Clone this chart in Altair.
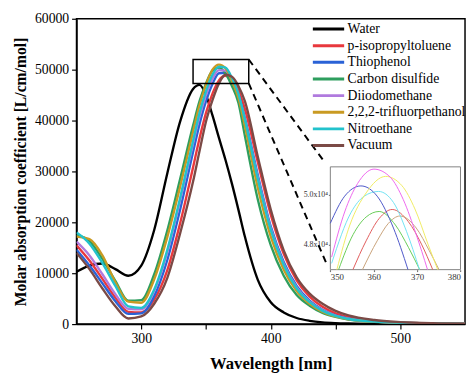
import altair as alt
import pandas as pd

# ---------------- data ----------------
WAVELENGTH = [250, 260, 270, 280, 290, 300, 310, 320, 330, 340, 345, 350, 355, 360, 365,
              370, 375, 380, 390, 400, 410, 420, 430, 440, 450, 460, 480, 500, 525, 550]

SERIES = ["Water", "p-isopropyltoluene", "Thiophenol", "Carbon disulfide",
          "Diiodomethane", "2,2,2-trifluorpethanol", "Nitroethane", "Vacuum"]

WATER = [10300, 11500, 11900, 10800, 9500, 11500, 18500, 29500, 39800, 46200, 47000, 45000, 41000, 36600, 32300,
         27600, 22500, 17200, 8700, 4300, 2300, 1200, 650, 350, 200, 120, 50, 20, 10, 5]
P_ISOPROPYLTOLUENE = [15500, 12500, 8900, 5200, 2400, 2300, 4800, 10500, 19800, 30800, 36500, 41500, 45300, 47900, 48800,
                      48200, 46000, 42300, 31800, 21500, 13800, 8600, 5400, 3400, 2100, 1350, 650, 330, 150, 70]
THIOPHENOL = [14600, 11500, 8000, 4500, 2000, 2100, 5500, 12500, 22500, 33800, 39300, 43800, 47200, 49300, 49400,
              47900, 45200, 40500, 29300, 19200, 12200, 7500, 4600, 2800, 1700, 1100, 540, 290, 140, 60]
CARBON_DISULFIDE = [17600, 16300, 12800, 8500, 4600, 4700, 9800, 18300, 28500, 39000, 43800, 47300, 49800, 50400, 49300,
                    46800, 43500, 37000, 24500, 15500, 9500, 5700, 3600, 2200, 1400, 900, 450, 250, 120, 60]
DIIODOMETHANE = [16200, 13500, 9800, 5900, 3000, 2900, 6500, 14000, 24300, 35500, 40800, 45000, 48200, 49900, 49800,
                 48000, 45000, 40000, 28800, 18800, 11800, 7200, 4400, 2700, 1650, 1050, 520, 280, 130, 60]
TRIFLUOROETHANOL = [17200, 16700, 13500, 8200, 4400, 4200, 8800, 17000, 27000, 37800, 43000, 47000, 50000, 51000, 50300,
                    47800, 44500, 39000, 26800, 17200, 10700, 6500, 4000, 2400, 1500, 950, 480, 260, 130, 60]
NITROETHANE = [18000, 15800, 12000, 7500, 3500, 3200, 6800, 14500, 24800, 36000, 41500, 45800, 49000, 50600, 50400,
               48400, 45300, 40200, 28500, 18500, 11600, 7000, 4300, 2600, 1600, 1000, 500, 270, 130, 60]
VACUUM = [14000, 10800, 7000, 3500, 1100, 1500, 4000, 9000, 17800, 28000, 34000, 39800, 44000, 47300, 49000,
          48600, 46800, 43800, 32900, 22500, 14500, 9200, 6000, 4000, 2600, 1700, 800, 400, 170, 80]

MAIN_VALUES = [WATER, P_ISOPROPYLTOLUENE, THIOPHENOL, CARBON_DISULFIDE,
               DIIODOMETHANE, TRIFLUOROETHANOL, NITROETHANE, VACUUM]

COLORS = ["#000000", "#e8383d", "#2a62d6", "#2e9e5e", "#b07ade", "#c99a22", "#22c2cc", "#7b4a46"]

# zoom box (main axes units)
ZOOM_WL = [340, 383]
ZOOM_ABS = [47300, 52000]

# inset (zoomed) curves
INSET_X_DOMAIN = [350, 380]
INSET_Y_DOMAIN = [47000, 51100]
INSET_X_TICKS = [350, 360, 370, 380]
INSET_Y_TICKS = [48000, 50000]

IN_DIIODO_X = [350.3, 353.3, 356.3, 360.05, 363.8, 366.8, 369.8, 372.4]
IN_DIIODO_Y = [47500, 49300, 50440, 51010, 50690, 49800, 48400, 47000]
IN_TFE_X = [351.5, 354.5, 358.25, 362.75, 366.5, 369.5, 372.5, 374.75]
IN_TFE_Y = [47000, 48780, 50060, 50720, 50350, 49420, 48020, 47000]
IN_THIO_X = [350.0, 353.3, 357.05, 360.8, 364.55, 367.9]
IN_THIO_Y = [48850, 49930, 50340, 49930, 48660, 47000]
IN_NITRO_X = [350.3, 354.8, 357.8, 361.1, 364.55, 367.55, 370.55]
IN_NITRO_Y = [47250, 49290, 49930, 50120, 49680, 48530, 47000]
IN_CS2_X = [351.9, 355.25, 358.25, 361.25, 365.0, 368.0, 370.6]
IN_CS2_Y = [47000, 48400, 49100, 49320, 48780, 47890, 47000]
IN_PISO_X = [355.2, 358.25, 361.25, 364.25, 368.0, 371.0, 373.6]
IN_PISO_Y = [47000, 48150, 49040, 49400, 48910, 48020, 47000]
IN_VAC_X = [357.4, 360.8, 363.4, 366.05, 369.8, 372.8, 375.05]
IN_VAC_Y = [47000, 48150, 48850, 49140, 48660, 47760, 47000]

INSET_SERIES = [
    (IN_PISO_X, IN_PISO_Y, "#e05a5a"),
    (IN_VAC_X, IN_VAC_Y, "#c9a27a"),
    (IN_CS2_X, IN_CS2_Y, "#66cc55"),
    (IN_NITRO_X, IN_NITRO_Y, "#70e2f2"),
    (IN_THIO_X, IN_THIO_Y, "#4b55c8"),
    (IN_TFE_X, IN_TFE_Y, "#f0ec62"),
    (IN_DIIODO_X, IN_DIIODO_Y, "#ee66ee"),
]

# ---------------- layout ----------------
W, H = 397, 312
X_MAIN = [250, 550]
Y_MAIN = [0, 60000]
SERIF = "Liberation Serif, Times New Roman, serif"


def px(lam):
    return (lam - X_MAIN[0]) / (X_MAIN[1] - X_MAIN[0]) * W


def py(val):
    return (Y_MAIN[1] - val) / (Y_MAIN[1] - Y_MAIN[0]) * H


# inset placement in main-axis units
INSET_LEFT, INSET_RIGHT = 446, 546.5
INSET_BOTTOM, INSET_TOP = 10700, 30900

xscale = alt.Scale(domain=X_MAIN, nice=False, zero=False)
yscale = alt.Scale(domain=Y_MAIN, nice=False)
xaxis = alt.Axis(values=[300, 350, 400, 450, 500],
                 labelExpr="datum.value % 100 == 0 ? datum.label : ''",
                 labelFont=SERIF, labelFontSize=14,
                 titleFontSize=17, titlePadding=10, labelPadding=3, tickSize=5)
yaxis = alt.Axis(values=list(range(0, 60001, 5000)),
                 labelExpr="datum.value % 10000 == 0 ? datum.value : ''",
                 labelFont=SERIF, labelFontSize=14,
                 titleFontSize=16, titlePadding=6, labelPadding=3, tickSize=5)
cscale = alt.Scale(domain=SERIES, range=COLORS)
legend = alt.Legend(orient="none", legendX=248, legendY=1, title=None,
                    labelFont=SERIF, labelFontSize=14, labelColor="black",
                    symbolType="M-2,0H2", symbolSize=256, symbolStrokeWidth=3,
                    rowPadding=0, labelOffset=10, padding=0)

main_layers = []
for name, vals in zip(SERIES, MAIN_VALUES):
    df = pd.DataFrame({"wl": WAVELENGTH, "v": vals, "series": name})
    main_layers.append(
        alt.Chart(df).mark_line(interpolate="monotone", strokeWidth=2.4, clip=True).encode(
            x=alt.X("wl:Q", scale=xscale, axis=xaxis, title="Wavelength [nm]"),
            y=alt.Y("v:Q", scale=yscale, axis=yaxis, title="Molar absorption coefficient [L/cm/mol]"),
            color=alt.Color("series:N", scale=cscale, legend=legend),
        )
    )

box_df = pd.DataFrame({"x": [ZOOM_WL[0]], "x2": [ZOOM_WL[1]], "y": [ZOOM_ABS[0]], "y2": [ZOOM_ABS[1]]})
box = alt.Chart(box_df).mark_rect(fillOpacity=0, stroke="black", strokeWidth=1.5).encode(
    x=alt.X("x:Q", scale=xscale), x2="x2", y=alt.Y("y:Q", scale=yscale), y2="y2")

dash_df = pd.DataFrame({
    "x": [ZOOM_WL[1], ZOOM_WL[1]],
    "y": [ZOOM_ABS[1], ZOOM_ABS[0]],
    "x2": [440.5, 444.0],
    "y2": [32200, 11300],
})
dashes = alt.Chart(dash_df).mark_rule(stroke="black", strokeWidth=2, strokeDash=[7, 5]).encode(
    x=alt.X("x:Q", scale=xscale), x2="x2", y=alt.Y("y:Q", scale=yscale), y2="y2")

main = alt.layer(*main_layers, box, dashes)

# ---------------- inset ----------------
ixscale = alt.Scale(domain=INSET_X_DOMAIN, range=[px(INSET_LEFT), px(INSET_RIGHT)], nice=False, zero=False)
iyscale = alt.Scale(domain=INSET_Y_DOMAIN, range=[py(INSET_BOTTOM), py(INSET_TOP)], nice=False, zero=False)
ixaxis = alt.Axis(orient="bottom", offset=-(H - py(INSET_BOTTOM)), values=INSET_X_TICKS,
                  labelFontSize=9, labelColor="#333", labelFont=SERIF, domain=False,
                  tickSize=2, tickColor="#777", labelPadding=1, title=None, grid=False)
iyaxis = alt.Axis(orient="left", offset=-px(INSET_LEFT), values=INSET_Y_TICKS,
                  labelExpr="datum.value == 50000 ? '5.0x10\u2074' : '4.8x10\u2074'",
                  labelFontSize=8, labelColor="#333", labelFont=SERIF, domain=False,
                  tickSize=2, tickColor="#777", labelPadding=1, title=None, grid=False)

frame_df = pd.DataFrame({"x": [INSET_X_DOMAIN[0]], "x2": [INSET_X_DOMAIN[1]],
                         "y": [INSET_Y_DOMAIN[0]], "y2": [INSET_Y_DOMAIN[1]]})
frame = alt.Chart(frame_df).mark_rect(fill="white", stroke="#808080", strokeWidth=1).encode(
    x=alt.X("x:Q", scale=ixscale, axis=ixaxis), x2="x2",
    y=alt.Y("y:Q", scale=iyscale, axis=iyaxis), y2="y2")

inset_layers = [frame]
for xs, ys, col in INSET_SERIES:
    df = pd.DataFrame({"x": xs, "y": ys})
    inset_layers.append(
        alt.Chart(df).mark_line(interpolate="monotone", strokeWidth=1, color=col).encode(
            x=alt.X("x:Q", scale=ixscale, axis=ixaxis),
            y=alt.Y("y:Q", scale=iyscale, axis=iyaxis),
        )
    )
inset = alt.layer(*inset_layers)

chart = (
    alt.layer(main, inset)
    .resolve_scale(x="independent", y="independent")
    .properties(width=W, height=H, padding={"left": 5, "top": 0, "right": 0, "bottom": 0})
    .configure_view(stroke="black", strokeWidth=1.5)
    .configure_axis(labelFont=SERIF, labelFontSize=14, labelColor="black",
                    titleFont=SERIF, titleFontWeight="bold", titleColor="black",
                    domainColor="black", domainWidth=1.5, tickColor="black", tickWidth=1.2,
                    grid=False)
    .configure_legend(labelFont=SERIF, labelFontSize=14, labelColor="black")
    .configure_text(font=SERIF)
)

chart.save("out.html", embed_options={"renderer": "svg", "actions": False})
